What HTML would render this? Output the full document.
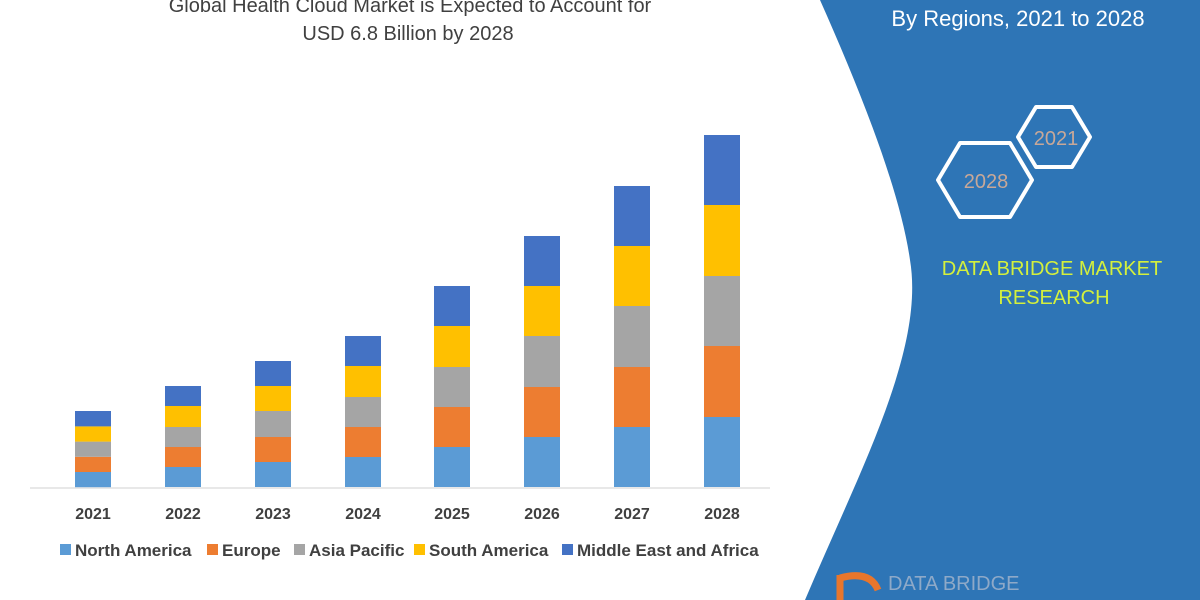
<!DOCTYPE html>
<html><head><style>
body{margin:0;width:1200px;height:600px;overflow:hidden;background:#fff;font-family:"Liberation Sans",sans-serif;}
</style></head><body>
<svg width="1200" height="600" xmlns="http://www.w3.org/2000/svg" style="position:absolute;left:0;top:0">
<path d="M820,0 L1200,0 L1200,600 L805,600 C860,470 925,350 910,260 C900,190 860,90 820,0 Z" fill="#2e75b6"/>
<text x="1018" y="26" fill="#fff" font-size="22" text-anchor="middle" font-family="Liberation Sans, sans-serif">By Regions, 2021 to 2028</text>
<polygon points="960,143 1010,143 1032,180 1010,217 960,217 938,180" fill="none" stroke="#fff" stroke-width="4" stroke-linejoin="round"/>
<polygon points="1036,107 1072,107 1090,137 1072,167 1036,167 1018,137" fill="none" stroke="#fff" stroke-width="4" stroke-linejoin="round"/>
<text x="986" y="188" fill="#c8a898" font-size="20" text-anchor="middle">2028</text>
<text x="1056" y="145" fill="#c8a898" font-size="20" text-anchor="middle">2021</text>
<text x="1052" y="275" fill="#d4f03c" font-size="20" text-anchor="middle">DATA BRIDGE MARKET</text>
<text x="1054" y="304" fill="#d4f03c" font-size="20" text-anchor="middle">RESEARCH</text>
<path d="M840,575 L840,600 M840,578 Q870,570 878,590" stroke="#e8762c" stroke-width="7" fill="none"/>
<text x="888" y="590" fill="#8ea9c8" font-size="20">DATA BRIDGE</text>
<text x="410" y="12" fill="#404040" font-size="20" text-anchor="middle">Global Health Cloud Market is Expected to Account for</text>
<text x="408" y="40" fill="#404040" font-size="20" text-anchor="middle">USD 6.8 Billion by 2028</text>
<line x1="30" y1="488" x2="770" y2="488" stroke="#e0e0e0" stroke-width="1.5"/>
<g font-size="16" font-weight="bold" fill="#404040" text-anchor="middle">
<text x="93" y="519">2021</text><text x="183" y="519">2022</text><text x="273" y="519">2023</text><text x="363" y="519">2024</text><text x="452" y="519">2025</text><text x="542" y="519">2026</text><text x="632" y="519">2027</text><text x="722" y="519">2028</text>
</g>
<g font-size="17" font-weight="bold" fill="#404040">
<rect x="60" y="544" width="11" height="11" fill="#5b9bd5"/><text x="75" y="556">North America</text>
<rect x="207" y="544" width="11" height="11" fill="#ed7d31"/><text x="222" y="556">Europe</text>
<rect x="294" y="544" width="11" height="11" fill="#a5a5a5"/><text x="309" y="556">Asia Pacific</text>
<rect x="414" y="544" width="11" height="11" fill="#ffc000"/><text x="429" y="556">South America</text>
<rect x="562" y="544" width="11" height="11" fill="#4472c4"/><text x="577" y="556">Middle East and Africa</text>
</g>
<g>
<rect x="75" y="472" width="36" height="15.2" fill="#5b9bd5"/><rect x="75" y="456.8" width="36" height="15.2" fill="#ed7d31"/><rect x="75" y="441.6" width="36" height="15.2" fill="#a5a5a5"/><rect x="75" y="426.4" width="36" height="15.2" fill="#ffc000"/><rect x="75" y="411" width="36" height="15.4" fill="#4472c4"/>
<rect x="165" y="467" width="36" height="20" fill="#5b9bd5"/><rect x="165" y="447" width="36" height="20" fill="#ed7d31"/><rect x="165" y="427" width="36" height="20" fill="#a5a5a5"/><rect x="165" y="406" width="36" height="21" fill="#ffc000"/><rect x="165" y="386" width="36" height="20" fill="#4472c4"/>
<rect x="255" y="462" width="36" height="25" fill="#5b9bd5"/><rect x="255" y="437" width="36" height="25" fill="#ed7d31"/><rect x="255" y="411" width="36" height="26" fill="#a5a5a5"/><rect x="255" y="386" width="36" height="25" fill="#ffc000"/><rect x="255" y="361" width="36" height="25" fill="#4472c4"/>
<rect x="345" y="457" width="36" height="30" fill="#5b9bd5"/><rect x="345" y="427" width="36" height="30" fill="#ed7d31"/><rect x="345" y="397" width="36" height="30" fill="#a5a5a5"/><rect x="345" y="366" width="36" height="31" fill="#ffc000"/><rect x="345" y="336" width="36" height="30" fill="#4472c4"/>
<rect x="434" y="447" width="36" height="40" fill="#5b9bd5"/><rect x="434" y="407" width="36" height="40" fill="#ed7d31"/><rect x="434" y="367" width="36" height="40" fill="#a5a5a5"/><rect x="434" y="326" width="36" height="41" fill="#ffc000"/><rect x="434" y="286" width="36" height="40" fill="#4472c4"/>
<rect x="524" y="437" width="36" height="50" fill="#5b9bd5"/><rect x="524" y="387" width="36" height="50" fill="#ed7d31"/><rect x="524" y="336" width="36" height="51" fill="#a5a5a5"/><rect x="524" y="286" width="36" height="50" fill="#ffc000"/><rect x="524" y="236" width="36" height="50" fill="#4472c4"/>
<rect x="614" y="427" width="36" height="60" fill="#5b9bd5"/><rect x="614" y="367" width="36" height="60" fill="#ed7d31"/><rect x="614" y="306" width="36" height="61" fill="#a5a5a5"/><rect x="614" y="246" width="36" height="60" fill="#ffc000"/><rect x="614" y="186" width="36" height="60" fill="#4472c4"/>
<rect x="704" y="417" width="36" height="70" fill="#5b9bd5"/><rect x="704" y="346" width="36" height="71" fill="#ed7d31"/><rect x="704" y="276" width="36" height="70" fill="#a5a5a5"/><rect x="704" y="205" width="36" height="71" fill="#ffc000"/><rect x="704" y="135" width="36" height="70" fill="#4472c4"/>
</g>
</svg>
</body></html>
